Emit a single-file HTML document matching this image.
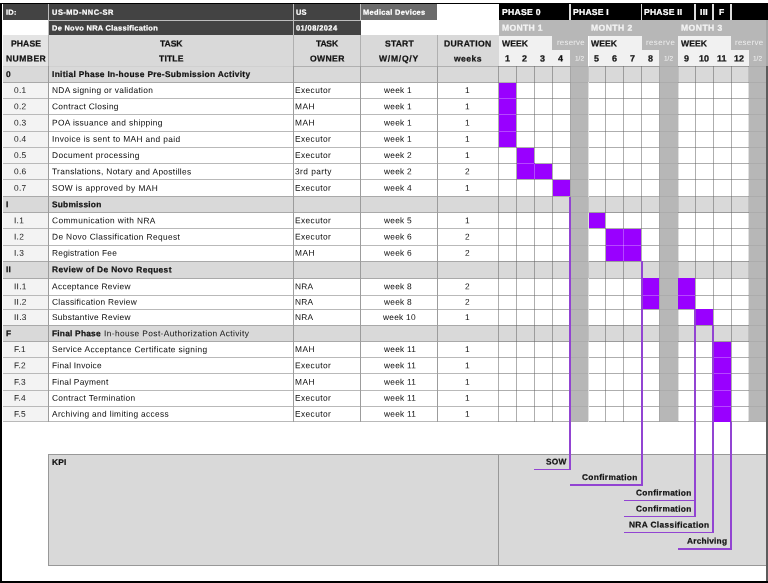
<!DOCTYPE html>
<html><head><meta charset="utf-8"><title>De Novo NRA Classification</title><style>
html,body{margin:0;padding:0;background:#fff;}
body{width:768px;height:583px;position:relative;overflow:hidden;font-family:"Liberation Sans",sans-serif;font-size:8.6px;color:#111;}
#w{position:absolute;left:0;top:0;width:768px;height:583px;will-change:transform;}
#w>div{position:absolute;}
.t{white-space:nowrap;overflow:visible;height:12px;line-height:12px;transform-origin:0 50%;}
</style></head><body><div id="w">
<div style="left:2.50px;top:4.30px;width:358.20px;height:15.45px;background:#434343;"></div>
<div style="left:360.70px;top:4.30px;width:76.80px;height:15.45px;background:#6b6b6b;"></div>
<div style="left:48.50px;top:19.75px;width:312.20px;height:15.15px;background:#434343;"></div>
<div style="left:48.50px;top:19.65px;width:312.20px;height:0.90px;background:#bdbdbd;"></div>
<div style="left:48.00px;top:4.30px;width:1.00px;height:30.60px;background:#bdbdbd;"></div>
<div style="left:292.70px;top:4.30px;width:1.00px;height:30.60px;background:#bdbdbd;"></div>
<div style="left:360.20px;top:4.30px;width:1.00px;height:15.45px;background:#bdbdbd;"></div>
<div class="t" style="left:5.60px;top:6px;transform:translateY(0.70px) rotate(0.04deg);font-size:7.45px;letter-spacing:0.308px;font-weight:bold;-webkit-text-stroke:0.22px;color:#fff;">ID:</div>
<div class="t" style="left:52.10px;top:6px;transform:translateY(0.70px) rotate(0.04deg);font-size:7.45px;letter-spacing:0.516px;font-weight:bold;-webkit-text-stroke:0.22px;color:#fff;">US-MD-NNC-SR</div>
<div class="t" style="left:295.60px;top:6px;transform:translateY(0.70px) rotate(0.04deg);font-size:7.45px;letter-spacing:0.167px;font-weight:bold;-webkit-text-stroke:0.22px;color:#fff;">US</div>
<div class="t" style="left:363.10px;top:6px;transform:translateY(0.70px) rotate(0.04deg);font-size:7.45px;letter-spacing:0.340px;font-weight:bold;-webkit-text-stroke:0.22px;color:#fff;">Medical Devices</div>
<div class="t" style="left:52.10px;top:22px;transform:translateY(0.50px) rotate(0.04deg);font-size:7.45px;letter-spacing:0.288px;font-weight:bold;-webkit-text-stroke:0.22px;color:#fff;">De Novo NRA Classification</div>
<div class="t" style="left:295.60px;top:22px;transform:translateY(0.50px) rotate(0.04deg);font-size:7.45px;letter-spacing:0.422px;font-weight:bold;-webkit-text-stroke:0.22px;color:#fff;">01/08/2024</div>
<div style="left:498.60px;top:2.50px;width:269.40px;height:17.35px;background:#000;"></div>
<div style="left:569.40px;top:4.40px;width:1.40px;height:15.95px;background:#dcdcdc;"></div>
<div style="left:641.00px;top:4.40px;width:1.40px;height:15.95px;background:#dcdcdc;"></div>
<div style="left:694.40px;top:4.40px;width:1.40px;height:15.95px;background:#dcdcdc;"></div>
<div style="left:712.30px;top:4.40px;width:1.40px;height:15.95px;background:#dcdcdc;"></div>
<div style="left:730.30px;top:4.40px;width:1.40px;height:15.95px;background:#dcdcdc;"></div>
<div class="t" style="left:501.70px;top:6px;transform:translateY(0.00px) rotate(0.04deg);font-size:8.6px;letter-spacing:0.292px;font-weight:bold;-webkit-text-stroke:0.22px;color:#fff;">PHASE 0</div>
<div class="t" style="left:573.20px;top:6px;transform:translateY(0.00px) rotate(0.04deg);font-size:8.6px;letter-spacing:0.229px;font-weight:bold;-webkit-text-stroke:0.22px;color:#fff;">PHASE I</div>
<div class="t" style="left:644.30px;top:6px;transform:translateY(0.00px) rotate(0.04deg);font-size:8.6px;letter-spacing:0.200px;font-weight:bold;-webkit-text-stroke:0.22px;color:#fff;">PHASE II</div>
<div class="t" style="left:699.50px;top:6px;transform:translateY(0.00px) rotate(0.04deg);font-size:8.6px;letter-spacing:0.253px;font-weight:bold;-webkit-text-stroke:0.22px;color:#fff;">III</div>
<div class="t" style="left:719.00px;top:6px;transform:translateY(0.00px) rotate(0.04deg);font-size:8.6px;letter-spacing:0.000px;font-weight:bold;-webkit-text-stroke:0.22px;color:#fff;">F</div>
<div style="left:498.60px;top:19.85px;width:267.70px;height:16.15px;background:#b7b7b7;"></div>
<div class="t" style="left:502.00px;top:21px;transform:translateY(0.80px) rotate(0.04deg);font-size:8.6px;letter-spacing:0.323px;font-weight:bold;-webkit-text-stroke:0.22px;color:#f4f4f4;">MONTH 1</div>
<div class="t" style="left:590.70px;top:21px;transform:translateY(0.80px) rotate(0.04deg);font-size:8.6px;letter-spacing:0.415px;font-weight:bold;-webkit-text-stroke:0.22px;color:#f4f4f4;">MONTH 2</div>
<div class="t" style="left:680.50px;top:21px;transform:translateY(0.80px) rotate(0.04deg);font-size:8.6px;letter-spacing:0.446px;font-weight:bold;-webkit-text-stroke:0.22px;color:#f4f4f4;">MONTH 3</div>
<div style="left:498.60px;top:35.90px;width:71.50px;height:30.35px;background:#f1f1f1;"></div>
<div style="left:552.20px;top:35.90px;width:36.30px;height:14.50px;background:#b7b7b7;"></div>
<div style="left:570.10px;top:35.90px;width:18.40px;height:30.35px;background:#b7b7b7;"></div>
<div class="t" style="left:502.00px;top:37px;transform:translateY(0.60px) rotate(0.04deg);font-size:8.6px;letter-spacing:0.057px;font-weight:bold;-webkit-text-stroke:0.22px;">WEEK</div>
<div class="t" style="left:557.30px;top:36px;transform:translateY(0.90px) rotate(0.04deg);font-size:7.9px;letter-spacing:0.224px;color:#ececec;">reserve</div>
<div class="t" style="left:504.55px;top:52px;transform:translateY(0.60px) rotate(0.04deg);font-size:9.0px;letter-spacing:0.000px;font-weight:bold;-webkit-text-stroke:0.22px;">1</div>
<div class="t" style="left:522.45px;top:52px;transform:translateY(0.60px) rotate(0.04deg);font-size:9.0px;letter-spacing:0.000px;font-weight:bold;-webkit-text-stroke:0.22px;">2</div>
<div class="t" style="left:540.30px;top:52px;transform:translateY(0.60px) rotate(0.04deg);font-size:9.0px;letter-spacing:0.000px;font-weight:bold;-webkit-text-stroke:0.22px;">3</div>
<div class="t" style="left:558.15px;top:52px;transform:translateY(0.60px) rotate(0.04deg);font-size:9.0px;letter-spacing:0.000px;font-weight:bold;-webkit-text-stroke:0.22px;">4</div>
<div class="t" style="left:574.58px;top:52px;transform:translateY(0.40px) rotate(0.04deg);font-size:6.5px;letter-spacing:0.000px;color:#f6f6f6;">1/2</div>
<div style="left:588.50px;top:35.90px;width:70.80px;height:30.35px;background:#f1f1f1;"></div>
<div style="left:641.70px;top:35.90px;width:36.30px;height:14.50px;background:#b7b7b7;"></div>
<div style="left:659.30px;top:35.90px;width:18.70px;height:30.35px;background:#b7b7b7;"></div>
<div class="t" style="left:590.70px;top:37px;transform:translateY(0.60px) rotate(0.04deg);font-size:8.6px;letter-spacing:0.057px;font-weight:bold;-webkit-text-stroke:0.22px;">WEEK</div>
<div class="t" style="left:645.60px;top:36px;transform:translateY(0.90px) rotate(0.04deg);font-size:7.9px;letter-spacing:0.409px;color:#ececec;">reserve</div>
<div class="t" style="left:594.10px;top:52px;transform:translateY(0.60px) rotate(0.04deg);font-size:9.0px;letter-spacing:0.000px;font-weight:bold;-webkit-text-stroke:0.22px;">5</div>
<div class="t" style="left:611.80px;top:52px;transform:translateY(0.60px) rotate(0.04deg);font-size:9.0px;letter-spacing:0.000px;font-weight:bold;-webkit-text-stroke:0.22px;">6</div>
<div class="t" style="left:629.80px;top:52px;transform:translateY(0.60px) rotate(0.04deg);font-size:9.0px;letter-spacing:0.000px;font-weight:bold;-webkit-text-stroke:0.22px;">7</div>
<div class="t" style="left:647.50px;top:52px;transform:translateY(0.60px) rotate(0.04deg);font-size:9.0px;letter-spacing:0.000px;font-weight:bold;-webkit-text-stroke:0.22px;">8</div>
<div class="t" style="left:663.93px;top:52px;transform:translateY(0.40px) rotate(0.04deg);font-size:6.5px;letter-spacing:0.000px;color:#f6f6f6;">1/2</div>
<div style="left:678.00px;top:35.90px;width:70.70px;height:30.35px;background:#f1f1f1;"></div>
<div style="left:731.00px;top:35.90px;width:35.30px;height:14.50px;background:#b7b7b7;"></div>
<div style="left:748.70px;top:35.90px;width:17.60px;height:30.35px;background:#b7b7b7;"></div>
<div class="t" style="left:680.50px;top:37px;transform:translateY(0.60px) rotate(0.04deg);font-size:8.6px;letter-spacing:0.057px;font-weight:bold;-webkit-text-stroke:0.22px;">WEEK</div>
<div class="t" style="left:735.40px;top:36px;transform:translateY(0.90px) rotate(0.04deg);font-size:7.9px;letter-spacing:0.286px;color:#ececec;">reserve</div>
<div class="t" style="left:683.55px;top:52px;transform:translateY(0.60px) rotate(0.04deg);font-size:9.0px;letter-spacing:0.000px;font-weight:bold;-webkit-text-stroke:0.22px;">9</div>
<div class="t" style="left:698.54px;top:52px;transform:translateY(0.60px) rotate(0.04deg);font-size:9.0px;letter-spacing:0.000px;font-weight:bold;-webkit-text-stroke:0.22px;">10</div>
<div class="t" style="left:716.74px;top:52px;transform:translateY(0.60px) rotate(0.04deg);font-size:9.0px;letter-spacing:0.000px;font-weight:bold;-webkit-text-stroke:0.22px;">11</div>
<div class="t" style="left:734.34px;top:52px;transform:translateY(0.60px) rotate(0.04deg);font-size:9.0px;letter-spacing:0.000px;font-weight:bold;-webkit-text-stroke:0.22px;">12</div>
<div class="t" style="left:752.78px;top:52px;transform:translateY(0.40px) rotate(0.04deg);font-size:6.5px;letter-spacing:0.000px;color:#f6f6f6;">1/2</div>
<div style="left:2.50px;top:35.40px;width:46.00px;height:30.85px;background:#e4e4e4;"></div>
<div style="left:48.50px;top:35.40px;width:450.10px;height:30.85px;background:#d9d9d9;"></div>
<div class="t" style="left:10.52px;top:37px;transform:translateY(0.60px) rotate(0.04deg);font-size:8.6px;letter-spacing:0.082px;font-weight:bold;-webkit-text-stroke:0.22px;">PHASE</div>
<div class="t" style="left:5.60px;top:52px;transform:translateY(0.40px) rotate(0.04deg);font-size:8.6px;letter-spacing:0.410px;font-weight:bold;-webkit-text-stroke:0.22px;">NUMBER</div>
<div class="t" style="left:159.58px;top:37px;transform:translateY(0.60px) rotate(0.04deg);font-size:8.6px;letter-spacing:-0.078px;font-weight:bold;-webkit-text-stroke:0.22px;">TASK</div>
<div class="t" style="left:158.63px;top:52px;transform:translateY(0.40px) rotate(0.04deg);font-size:8.6px;letter-spacing:0.137px;font-weight:bold;-webkit-text-stroke:0.22px;">TITLE</div>
<div class="t" style="left:315.89px;top:37px;transform:translateY(0.60px) rotate(0.04deg);font-size:8.6px;letter-spacing:-0.221px;font-weight:bold;-webkit-text-stroke:0.22px;">TASK</div>
<div class="t" style="left:309.74px;top:52px;transform:translateY(0.40px) rotate(0.04deg);font-size:8.6px;letter-spacing:0.364px;font-weight:bold;-webkit-text-stroke:0.22px;">OWNER</div>
<div class="t" style="left:384.54px;top:37px;transform:translateY(0.60px) rotate(0.04deg);font-size:8.6px;letter-spacing:0.172px;font-weight:bold;-webkit-text-stroke:0.22px;">START</div>
<div class="t" style="left:379.33px;top:52px;transform:translateY(0.40px) rotate(0.04deg);font-size:8.6px;letter-spacing:0.712px;font-weight:bold;-webkit-text-stroke:0.22px;">W/M/Q/Y</div>
<div class="t" style="left:444.24px;top:37px;transform:translateY(0.60px) rotate(0.04deg);font-size:8.6px;letter-spacing:0.354px;font-weight:bold;-webkit-text-stroke:0.22px;">DURATION</div>
<div class="t" style="left:454.06px;top:52px;transform:translateY(0.40px) rotate(0.04deg);font-size:8.6px;letter-spacing:0.440px;font-weight:bold;-webkit-text-stroke:0.22px;">weeks</div>
<div style="left:48.00px;top:35.40px;width:1.00px;height:30.85px;background:#b0b0b0;"></div>
<div style="left:292.50px;top:35.40px;width:1.00px;height:30.85px;background:#b0b0b0;"></div>
<div style="left:360.20px;top:35.40px;width:1.00px;height:30.85px;background:#b0b0b0;"></div>
<div style="left:436.60px;top:35.40px;width:1.00px;height:30.85px;background:#b0b0b0;"></div>
<div style="left:2.50px;top:66.25px;width:763.80px;height:16.00px;background:#d9d9d9;"></div>
<div class="t" style="left:5.60px;top:67px;transform:translateY(0.95px) rotate(0.04deg);font-size:8.35px;letter-spacing:0.200px;font-weight:bold;-webkit-text-stroke:0.22px;">0</div>
<div class="t" style="left:52.30px;top:67px;transform:translateY(0.95px) rotate(0.04deg);font-size:8.35px;letter-spacing:0.319px;font-weight:bold;-webkit-text-stroke:0.22px;">Initial Phase In-house Pre-Submission Activity</div>
<div style="left:2.50px;top:82.25px;width:46.00px;height:16.15px;background:#f3f3f3;"></div>
<div class="t" style="left:13.60px;top:84px;transform:translateY(0.03px) rotate(0.04deg);font-size:8.35px;letter-spacing:0.250px;color:#161616;">0.1</div>
<div class="t" style="left:52.30px;top:84px;transform:translateY(0.03px) rotate(0.04deg);font-size:8.35px;letter-spacing:0.315px;color:#0a0a0a;">NDA signing or validation</div>
<div class="t" style="left:295.30px;top:84px;transform:translateY(0.03px) rotate(0.04deg);font-size:8.35px;letter-spacing:0.406px;color:#0a0a0a;">Executor</div>
<div class="t" style="left:384.45px;top:84px;transform:translateY(0.03px) rotate(0.04deg);font-size:8.35px;letter-spacing:0.250px;color:#0a0a0a;">week 1</div>
<div class="t" style="left:464.98px;top:84px;transform:translateY(0.03px) rotate(0.04deg);font-size:8.35px;letter-spacing:0.000px;color:#0a0a0a;">1</div>
<div style="left:2.50px;top:98.40px;width:46.00px;height:16.10px;background:#f3f3f3;"></div>
<div class="t" style="left:13.60px;top:100px;transform:translateY(0.15px) rotate(0.04deg);font-size:8.35px;letter-spacing:0.250px;color:#161616;">0.2</div>
<div class="t" style="left:52.30px;top:100px;transform:translateY(0.15px) rotate(0.04deg);font-size:8.35px;letter-spacing:0.321px;color:#0a0a0a;">Contract Closing</div>
<div class="t" style="left:295.30px;top:100px;transform:translateY(0.15px) rotate(0.04deg);font-size:8.35px;letter-spacing:0.458px;color:#0a0a0a;">MAH</div>
<div class="t" style="left:384.45px;top:100px;transform:translateY(0.15px) rotate(0.04deg);font-size:8.35px;letter-spacing:0.250px;color:#0a0a0a;">week 1</div>
<div class="t" style="left:464.98px;top:100px;transform:translateY(0.15px) rotate(0.04deg);font-size:8.35px;letter-spacing:0.000px;color:#0a0a0a;">1</div>
<div style="left:2.50px;top:114.50px;width:46.00px;height:16.50px;background:#f3f3f3;"></div>
<div class="t" style="left:13.60px;top:116px;transform:translateY(0.45px) rotate(0.04deg);font-size:8.35px;letter-spacing:0.250px;color:#161616;">0.3</div>
<div class="t" style="left:52.30px;top:116px;transform:translateY(0.45px) rotate(0.04deg);font-size:8.35px;letter-spacing:0.350px;color:#0a0a0a;">POA issuance and shipping</div>
<div class="t" style="left:295.30px;top:116px;transform:translateY(0.45px) rotate(0.04deg);font-size:8.35px;letter-spacing:0.458px;color:#0a0a0a;">MAH</div>
<div class="t" style="left:384.45px;top:116px;transform:translateY(0.45px) rotate(0.04deg);font-size:8.35px;letter-spacing:0.250px;color:#0a0a0a;">week 1</div>
<div class="t" style="left:464.98px;top:116px;transform:translateY(0.45px) rotate(0.04deg);font-size:8.35px;letter-spacing:0.000px;color:#0a0a0a;">1</div>
<div style="left:2.50px;top:131.00px;width:46.00px;height:16.25px;background:#f3f3f3;"></div>
<div class="t" style="left:13.60px;top:132px;transform:translateY(0.82px) rotate(0.04deg);font-size:8.35px;letter-spacing:0.250px;color:#161616;">0.4</div>
<div class="t" style="left:52.30px;top:132px;transform:translateY(0.82px) rotate(0.04deg);font-size:8.35px;letter-spacing:0.360px;color:#0a0a0a;">Invoice is sent to MAH and paid</div>
<div class="t" style="left:295.30px;top:132px;transform:translateY(0.82px) rotate(0.04deg);font-size:8.35px;letter-spacing:0.406px;color:#0a0a0a;">Executor</div>
<div class="t" style="left:384.45px;top:132px;transform:translateY(0.82px) rotate(0.04deg);font-size:8.35px;letter-spacing:0.250px;color:#0a0a0a;">week 1</div>
<div class="t" style="left:464.98px;top:132px;transform:translateY(0.82px) rotate(0.04deg);font-size:8.35px;letter-spacing:0.000px;color:#0a0a0a;">1</div>
<div style="left:2.50px;top:147.25px;width:46.00px;height:16.25px;background:#f3f3f3;"></div>
<div class="t" style="left:13.60px;top:149px;transform:translateY(0.07px) rotate(0.04deg);font-size:8.35px;letter-spacing:0.250px;color:#161616;">0.5</div>
<div class="t" style="left:52.30px;top:149px;transform:translateY(0.07px) rotate(0.04deg);font-size:8.35px;letter-spacing:0.375px;color:#0a0a0a;">Document processing</div>
<div class="t" style="left:295.30px;top:149px;transform:translateY(0.07px) rotate(0.04deg);font-size:8.35px;letter-spacing:0.406px;color:#0a0a0a;">Executor</div>
<div class="t" style="left:384.45px;top:149px;transform:translateY(0.07px) rotate(0.04deg);font-size:8.35px;letter-spacing:0.250px;color:#0a0a0a;">week 2</div>
<div class="t" style="left:464.98px;top:149px;transform:translateY(0.07px) rotate(0.04deg);font-size:8.35px;letter-spacing:0.000px;color:#0a0a0a;">1</div>
<div style="left:2.50px;top:163.50px;width:46.00px;height:16.25px;background:#f3f3f3;"></div>
<div class="t" style="left:13.60px;top:165px;transform:translateY(0.32px) rotate(0.04deg);font-size:8.35px;letter-spacing:0.250px;color:#161616;">0.6</div>
<div class="t" style="left:52.30px;top:165px;transform:translateY(0.32px) rotate(0.04deg);font-size:8.35px;letter-spacing:0.323px;color:#0a0a0a;">Translations, Notary and Apostilles</div>
<div class="t" style="left:295.30px;top:165px;transform:translateY(0.32px) rotate(0.04deg);font-size:8.35px;letter-spacing:0.441px;color:#0a0a0a;">3rd party</div>
<div class="t" style="left:384.45px;top:165px;transform:translateY(0.32px) rotate(0.04deg);font-size:8.35px;letter-spacing:0.250px;color:#0a0a0a;">week 2</div>
<div class="t" style="left:464.98px;top:165px;transform:translateY(0.32px) rotate(0.04deg);font-size:8.35px;letter-spacing:0.000px;color:#0a0a0a;">2</div>
<div style="left:2.50px;top:179.75px;width:46.00px;height:16.75px;background:#f3f3f3;"></div>
<div class="t" style="left:13.60px;top:181px;transform:translateY(0.82px) rotate(0.04deg);font-size:8.35px;letter-spacing:0.250px;color:#161616;">0.7</div>
<div class="t" style="left:52.30px;top:181px;transform:translateY(0.82px) rotate(0.04deg);font-size:8.35px;letter-spacing:0.398px;color:#0a0a0a;">SOW is approved by MAH</div>
<div class="t" style="left:295.30px;top:181px;transform:translateY(0.82px) rotate(0.04deg);font-size:8.35px;letter-spacing:0.406px;color:#0a0a0a;">Executor</div>
<div class="t" style="left:384.45px;top:181px;transform:translateY(0.82px) rotate(0.04deg);font-size:8.35px;letter-spacing:0.250px;color:#0a0a0a;">week 4</div>
<div class="t" style="left:464.98px;top:181px;transform:translateY(0.82px) rotate(0.04deg);font-size:8.35px;letter-spacing:0.000px;color:#0a0a0a;">1</div>
<div style="left:2.50px;top:196.50px;width:763.80px;height:16.00px;background:#d9d9d9;"></div>
<div class="t" style="left:5.60px;top:198px;transform:translateY(0.20px) rotate(0.04deg);font-size:8.35px;letter-spacing:0.200px;font-weight:bold;-webkit-text-stroke:0.22px;">I</div>
<div class="t" style="left:52.30px;top:198px;transform:translateY(0.20px) rotate(0.04deg);font-size:8.35px;letter-spacing:0.219px;font-weight:bold;-webkit-text-stroke:0.22px;">Submission</div>
<div style="left:2.50px;top:212.50px;width:46.00px;height:16.25px;background:#f3f3f3;"></div>
<div class="t" style="left:13.60px;top:214px;transform:translateY(0.32px) rotate(0.04deg);font-size:8.35px;letter-spacing:0.250px;color:#161616;">I.1</div>
<div class="t" style="left:52.30px;top:214px;transform:translateY(0.32px) rotate(0.04deg);font-size:8.35px;letter-spacing:0.399px;color:#0a0a0a;">Communication with NRA</div>
<div class="t" style="left:295.30px;top:214px;transform:translateY(0.32px) rotate(0.04deg);font-size:8.35px;letter-spacing:0.406px;color:#0a0a0a;">Executor</div>
<div class="t" style="left:384.45px;top:214px;transform:translateY(0.32px) rotate(0.04deg);font-size:8.35px;letter-spacing:0.250px;color:#0a0a0a;">week 5</div>
<div class="t" style="left:464.98px;top:214px;transform:translateY(0.32px) rotate(0.04deg);font-size:8.35px;letter-spacing:0.000px;color:#0a0a0a;">1</div>
<div style="left:2.50px;top:228.75px;width:46.00px;height:16.25px;background:#f3f3f3;"></div>
<div class="t" style="left:13.60px;top:230px;transform:translateY(0.57px) rotate(0.04deg);font-size:8.35px;letter-spacing:0.250px;color:#161616;">I.2</div>
<div class="t" style="left:52.30px;top:230px;transform:translateY(0.57px) rotate(0.04deg);font-size:8.35px;letter-spacing:0.359px;color:#0a0a0a;">De Novo Classification Request</div>
<div class="t" style="left:295.30px;top:230px;transform:translateY(0.57px) rotate(0.04deg);font-size:8.35px;letter-spacing:0.406px;color:#0a0a0a;">Executor</div>
<div class="t" style="left:384.45px;top:230px;transform:translateY(0.57px) rotate(0.04deg);font-size:8.35px;letter-spacing:0.250px;color:#0a0a0a;">week 6</div>
<div class="t" style="left:464.98px;top:230px;transform:translateY(0.57px) rotate(0.04deg);font-size:8.35px;letter-spacing:0.000px;color:#0a0a0a;">2</div>
<div style="left:2.50px;top:245.00px;width:46.00px;height:16.25px;background:#f3f3f3;"></div>
<div class="t" style="left:13.60px;top:246px;transform:translateY(0.82px) rotate(0.04deg);font-size:8.35px;letter-spacing:0.250px;color:#161616;">I.3</div>
<div class="t" style="left:52.30px;top:246px;transform:translateY(0.82px) rotate(0.04deg);font-size:8.35px;letter-spacing:0.241px;color:#0a0a0a;">Registration Fee</div>
<div class="t" style="left:295.30px;top:246px;transform:translateY(0.82px) rotate(0.04deg);font-size:8.35px;letter-spacing:0.458px;color:#0a0a0a;">MAH</div>
<div class="t" style="left:384.45px;top:246px;transform:translateY(0.82px) rotate(0.04deg);font-size:8.35px;letter-spacing:0.250px;color:#0a0a0a;">week 6</div>
<div class="t" style="left:464.98px;top:246px;transform:translateY(0.82px) rotate(0.04deg);font-size:8.35px;letter-spacing:0.000px;color:#0a0a0a;">2</div>
<div style="left:2.50px;top:261.25px;width:763.80px;height:16.75px;background:#d9d9d9;"></div>
<div class="t" style="left:5.60px;top:263px;transform:translateY(0.32px) rotate(0.04deg);font-size:8.35px;letter-spacing:0.200px;font-weight:bold;-webkit-text-stroke:0.22px;">II</div>
<div class="t" style="left:52.30px;top:263px;transform:translateY(0.32px) rotate(0.04deg);font-size:8.35px;letter-spacing:0.378px;font-weight:bold;-webkit-text-stroke:0.22px;">Review of De Novo Request</div>
<div style="left:2.50px;top:278.00px;width:46.00px;height:17.00px;background:#f3f3f3;"></div>
<div class="t" style="left:13.60px;top:280px;transform:translateY(0.20px) rotate(0.04deg);font-size:8.35px;letter-spacing:0.250px;color:#161616;">II.1</div>
<div class="t" style="left:52.30px;top:280px;transform:translateY(0.20px) rotate(0.04deg);font-size:8.35px;letter-spacing:0.325px;color:#0a0a0a;">Acceptance Review</div>
<div class="t" style="left:295.30px;top:280px;transform:translateY(0.20px) rotate(0.04deg);font-size:8.35px;letter-spacing:0.250px;color:#0a0a0a;">NRA</div>
<div class="t" style="left:384.45px;top:280px;transform:translateY(0.20px) rotate(0.04deg);font-size:8.35px;letter-spacing:0.250px;color:#0a0a0a;">week 8</div>
<div class="t" style="left:464.98px;top:280px;transform:translateY(0.20px) rotate(0.04deg);font-size:8.35px;letter-spacing:0.000px;color:#0a0a0a;">2</div>
<div style="left:2.50px;top:295.00px;width:46.00px;height:14.06px;background:#f3f3f3;"></div>
<div class="t" style="left:13.60px;top:295px;transform:translateY(0.73px) rotate(0.04deg);font-size:8.35px;letter-spacing:0.250px;color:#161616;">II.2</div>
<div class="t" style="left:52.30px;top:295px;transform:translateY(0.73px) rotate(0.04deg);font-size:8.35px;letter-spacing:0.298px;color:#0a0a0a;">Classification Review</div>
<div class="t" style="left:295.30px;top:295px;transform:translateY(0.73px) rotate(0.04deg);font-size:8.35px;letter-spacing:0.250px;color:#0a0a0a;">NRA</div>
<div class="t" style="left:384.45px;top:295px;transform:translateY(0.73px) rotate(0.04deg);font-size:8.35px;letter-spacing:0.250px;color:#0a0a0a;">week 8</div>
<div class="t" style="left:464.98px;top:295px;transform:translateY(0.73px) rotate(0.04deg);font-size:8.35px;letter-spacing:0.000px;color:#0a0a0a;">2</div>
<div style="left:2.50px;top:309.06px;width:46.00px;height:16.34px;background:#f3f3f3;"></div>
<div class="t" style="left:13.60px;top:310px;transform:translateY(0.93px) rotate(0.04deg);font-size:8.35px;letter-spacing:0.250px;color:#161616;">II.3</div>
<div class="t" style="left:52.30px;top:310px;transform:translateY(0.93px) rotate(0.04deg);font-size:8.35px;letter-spacing:0.307px;color:#0a0a0a;">Substantive Review</div>
<div class="t" style="left:295.30px;top:310px;transform:translateY(0.93px) rotate(0.04deg);font-size:8.35px;letter-spacing:0.250px;color:#0a0a0a;">NRA</div>
<div class="t" style="left:383.20px;top:310px;transform:translateY(0.93px) rotate(0.04deg);font-size:8.35px;letter-spacing:0.250px;color:#0a0a0a;">week 10</div>
<div class="t" style="left:464.98px;top:310px;transform:translateY(0.93px) rotate(0.04deg);font-size:8.35px;letter-spacing:0.000px;color:#0a0a0a;">1</div>
<div style="left:2.50px;top:325.40px;width:763.80px;height:16.20px;background:#d9d9d9;"></div>
<div class="t" style="left:5.60px;top:327px;transform:translateY(0.20px) rotate(0.04deg);font-size:8.35px;letter-spacing:0.200px;font-weight:bold;-webkit-text-stroke:0.22px;">F</div>
<div class="t" style="left:52.30px;top:327px;transform:translateY(0.20px) rotate(0.04deg);font-size:8.35px;letter-spacing:0.218px;font-weight:bold;-webkit-text-stroke:0.22px;">Final Phase</div>
<div class="t" style="left:104.00px;top:327px;transform:translateY(0.20px) rotate(0.04deg);font-size:8.35px;letter-spacing:0.393px;">In-house Post-Authorization Activity</div>
<div style="left:2.50px;top:341.60px;width:46.00px;height:15.60px;background:#f3f3f3;"></div>
<div class="t" style="left:13.60px;top:343px;transform:translateY(0.10px) rotate(0.04deg);font-size:8.35px;letter-spacing:0.250px;color:#161616;">F.1</div>
<div class="t" style="left:52.30px;top:343px;transform:translateY(0.10px) rotate(0.04deg);font-size:8.35px;letter-spacing:0.357px;color:#0a0a0a;">Service Acceptance Certificate signing</div>
<div class="t" style="left:295.30px;top:343px;transform:translateY(0.10px) rotate(0.04deg);font-size:8.35px;letter-spacing:0.458px;color:#0a0a0a;">MAH</div>
<div class="t" style="left:383.51px;top:343px;transform:translateY(0.10px) rotate(0.04deg);font-size:8.35px;letter-spacing:0.250px;color:#0a0a0a;">week 11</div>
<div class="t" style="left:464.98px;top:343px;transform:translateY(0.10px) rotate(0.04deg);font-size:8.35px;letter-spacing:0.000px;color:#0a0a0a;">1</div>
<div style="left:2.50px;top:357.20px;width:46.00px;height:16.70px;background:#f3f3f3;"></div>
<div class="t" style="left:13.60px;top:359px;transform:translateY(0.25px) rotate(0.04deg);font-size:8.35px;letter-spacing:0.250px;color:#161616;">F.2</div>
<div class="t" style="left:52.30px;top:359px;transform:translateY(0.25px) rotate(0.04deg);font-size:8.35px;letter-spacing:0.226px;color:#0a0a0a;">Final Invoice</div>
<div class="t" style="left:295.30px;top:359px;transform:translateY(0.25px) rotate(0.04deg);font-size:8.35px;letter-spacing:0.406px;color:#0a0a0a;">Executor</div>
<div class="t" style="left:383.51px;top:359px;transform:translateY(0.25px) rotate(0.04deg);font-size:8.35px;letter-spacing:0.250px;color:#0a0a0a;">week 11</div>
<div class="t" style="left:464.98px;top:359px;transform:translateY(0.25px) rotate(0.04deg);font-size:8.35px;letter-spacing:0.000px;color:#0a0a0a;">1</div>
<div style="left:2.50px;top:373.90px;width:46.00px;height:16.10px;background:#f3f3f3;"></div>
<div class="t" style="left:13.60px;top:375px;transform:translateY(0.65px) rotate(0.04deg);font-size:8.35px;letter-spacing:0.250px;color:#161616;">F.3</div>
<div class="t" style="left:52.30px;top:375px;transform:translateY(0.65px) rotate(0.04deg);font-size:8.35px;letter-spacing:0.242px;color:#0a0a0a;">Final Payment</div>
<div class="t" style="left:295.30px;top:375px;transform:translateY(0.65px) rotate(0.04deg);font-size:8.35px;letter-spacing:0.458px;color:#0a0a0a;">MAH</div>
<div class="t" style="left:383.51px;top:375px;transform:translateY(0.65px) rotate(0.04deg);font-size:8.35px;letter-spacing:0.250px;color:#0a0a0a;">week 11</div>
<div class="t" style="left:464.98px;top:375px;transform:translateY(0.65px) rotate(0.04deg);font-size:8.35px;letter-spacing:0.000px;color:#0a0a0a;">1</div>
<div style="left:2.50px;top:390.00px;width:46.00px;height:16.25px;background:#f3f3f3;"></div>
<div class="t" style="left:13.60px;top:391px;transform:translateY(0.82px) rotate(0.04deg);font-size:8.35px;letter-spacing:0.250px;color:#161616;">F.4</div>
<div class="t" style="left:52.30px;top:391px;transform:translateY(0.82px) rotate(0.04deg);font-size:8.35px;letter-spacing:0.334px;color:#0a0a0a;">Contract Termination</div>
<div class="t" style="left:295.30px;top:391px;transform:translateY(0.82px) rotate(0.04deg);font-size:8.35px;letter-spacing:0.406px;color:#0a0a0a;">Executor</div>
<div class="t" style="left:383.51px;top:391px;transform:translateY(0.82px) rotate(0.04deg);font-size:8.35px;letter-spacing:0.250px;color:#0a0a0a;">week 11</div>
<div class="t" style="left:464.98px;top:391px;transform:translateY(0.82px) rotate(0.04deg);font-size:8.35px;letter-spacing:0.000px;color:#0a0a0a;">1</div>
<div style="left:2.50px;top:406.25px;width:46.00px;height:15.65px;background:#f3f3f3;"></div>
<div class="t" style="left:13.60px;top:407px;transform:translateY(0.77px) rotate(0.04deg);font-size:8.35px;letter-spacing:0.250px;color:#161616;">F.5</div>
<div class="t" style="left:52.30px;top:407px;transform:translateY(0.77px) rotate(0.04deg);font-size:8.35px;letter-spacing:0.344px;color:#0a0a0a;">Archiving and limiting access</div>
<div class="t" style="left:295.30px;top:407px;transform:translateY(0.77px) rotate(0.04deg);font-size:8.35px;letter-spacing:0.406px;color:#0a0a0a;">Executor</div>
<div class="t" style="left:383.51px;top:407px;transform:translateY(0.77px) rotate(0.04deg);font-size:8.35px;letter-spacing:0.250px;color:#0a0a0a;">week 11</div>
<div class="t" style="left:464.98px;top:407px;transform:translateY(0.77px) rotate(0.04deg);font-size:8.35px;letter-spacing:0.000px;color:#0a0a0a;">1</div>
<div style="left:659.30px;top:66.25px;width:18.70px;height:355.65px;background:#b7b7b7;"></div>
<div style="left:570.10px;top:66.25px;width:18.40px;height:355.65px;background:#b7b7b7;"></div>
<div style="left:748.70px;top:66.25px;width:17.60px;height:355.65px;background:#b7b7b7;"></div>
<div style="left:293.20px;top:65.75px;width:205.40px;height:1.00px;background:#b0b0b0;"></div>
<div style="left:2.50px;top:65.75px;width:290.70px;height:1.00px;background:#d0d0d0;"></div>
<div style="left:498.60px;top:65.75px;width:71.50px;height:1.00px;background:rgba(100,100,100,0.52);"></div>
<div style="left:588.50px;top:65.75px;width:70.80px;height:1.00px;background:rgba(100,100,100,0.52);"></div>
<div style="left:678.00px;top:65.75px;width:70.70px;height:1.00px;background:rgba(100,100,100,0.52);"></div>
<div style="left:659.30px;top:65.75px;width:18.70px;height:1.00px;background:rgba(100,100,100,0.13);"></div>
<div style="left:570.10px;top:65.75px;width:18.40px;height:1.00px;background:rgba(100,100,100,0.13);"></div>
<div style="left:748.70px;top:65.75px;width:17.60px;height:1.00px;background:rgba(100,100,100,0.13);"></div>
<div style="left:2.50px;top:81.75px;width:496.10px;height:1.00px;background:#a9a9a9;"></div>
<div style="left:498.60px;top:81.75px;width:71.50px;height:1.00px;background:rgba(100,100,100,0.52);"></div>
<div style="left:588.50px;top:81.75px;width:70.80px;height:1.00px;background:rgba(100,100,100,0.52);"></div>
<div style="left:678.00px;top:81.75px;width:70.70px;height:1.00px;background:rgba(100,100,100,0.52);"></div>
<div style="left:659.30px;top:81.75px;width:18.70px;height:1.00px;background:rgba(100,100,100,0.13);"></div>
<div style="left:570.10px;top:81.75px;width:18.40px;height:1.00px;background:rgba(100,100,100,0.13);"></div>
<div style="left:748.70px;top:81.75px;width:17.60px;height:1.00px;background:rgba(100,100,100,0.13);"></div>
<div style="left:2.50px;top:97.90px;width:496.10px;height:1.00px;background:#b9b9b9;"></div>
<div style="left:498.60px;top:97.90px;width:71.50px;height:1.00px;background:rgba(100,100,100,0.52);"></div>
<div style="left:588.50px;top:97.90px;width:70.80px;height:1.00px;background:rgba(100,100,100,0.52);"></div>
<div style="left:678.00px;top:97.90px;width:70.70px;height:1.00px;background:rgba(100,100,100,0.52);"></div>
<div style="left:659.30px;top:97.90px;width:18.70px;height:1.00px;background:rgba(100,100,100,0.13);"></div>
<div style="left:570.10px;top:97.90px;width:18.40px;height:1.00px;background:rgba(100,100,100,0.13);"></div>
<div style="left:748.70px;top:97.90px;width:17.60px;height:1.00px;background:rgba(100,100,100,0.13);"></div>
<div style="left:2.50px;top:114.00px;width:496.10px;height:1.00px;background:#b9b9b9;"></div>
<div style="left:498.60px;top:114.00px;width:71.50px;height:1.00px;background:rgba(100,100,100,0.52);"></div>
<div style="left:588.50px;top:114.00px;width:70.80px;height:1.00px;background:rgba(100,100,100,0.52);"></div>
<div style="left:678.00px;top:114.00px;width:70.70px;height:1.00px;background:rgba(100,100,100,0.52);"></div>
<div style="left:659.30px;top:114.00px;width:18.70px;height:1.00px;background:rgba(100,100,100,0.13);"></div>
<div style="left:570.10px;top:114.00px;width:18.40px;height:1.00px;background:rgba(100,100,100,0.13);"></div>
<div style="left:748.70px;top:114.00px;width:17.60px;height:1.00px;background:rgba(100,100,100,0.13);"></div>
<div style="left:2.50px;top:130.50px;width:496.10px;height:1.00px;background:#b9b9b9;"></div>
<div style="left:498.60px;top:130.50px;width:71.50px;height:1.00px;background:rgba(100,100,100,0.52);"></div>
<div style="left:588.50px;top:130.50px;width:70.80px;height:1.00px;background:rgba(100,100,100,0.52);"></div>
<div style="left:678.00px;top:130.50px;width:70.70px;height:1.00px;background:rgba(100,100,100,0.52);"></div>
<div style="left:659.30px;top:130.50px;width:18.70px;height:1.00px;background:rgba(100,100,100,0.13);"></div>
<div style="left:570.10px;top:130.50px;width:18.40px;height:1.00px;background:rgba(100,100,100,0.13);"></div>
<div style="left:748.70px;top:130.50px;width:17.60px;height:1.00px;background:rgba(100,100,100,0.13);"></div>
<div style="left:2.50px;top:146.75px;width:496.10px;height:1.00px;background:#b9b9b9;"></div>
<div style="left:498.60px;top:146.75px;width:71.50px;height:1.00px;background:rgba(100,100,100,0.52);"></div>
<div style="left:588.50px;top:146.75px;width:70.80px;height:1.00px;background:rgba(100,100,100,0.52);"></div>
<div style="left:678.00px;top:146.75px;width:70.70px;height:1.00px;background:rgba(100,100,100,0.52);"></div>
<div style="left:659.30px;top:146.75px;width:18.70px;height:1.00px;background:rgba(100,100,100,0.13);"></div>
<div style="left:570.10px;top:146.75px;width:18.40px;height:1.00px;background:rgba(100,100,100,0.13);"></div>
<div style="left:748.70px;top:146.75px;width:17.60px;height:1.00px;background:rgba(100,100,100,0.13);"></div>
<div style="left:2.50px;top:163.00px;width:496.10px;height:1.00px;background:#b9b9b9;"></div>
<div style="left:498.60px;top:163.00px;width:71.50px;height:1.00px;background:rgba(100,100,100,0.52);"></div>
<div style="left:588.50px;top:163.00px;width:70.80px;height:1.00px;background:rgba(100,100,100,0.52);"></div>
<div style="left:678.00px;top:163.00px;width:70.70px;height:1.00px;background:rgba(100,100,100,0.52);"></div>
<div style="left:659.30px;top:163.00px;width:18.70px;height:1.00px;background:rgba(100,100,100,0.13);"></div>
<div style="left:570.10px;top:163.00px;width:18.40px;height:1.00px;background:rgba(100,100,100,0.13);"></div>
<div style="left:748.70px;top:163.00px;width:17.60px;height:1.00px;background:rgba(100,100,100,0.13);"></div>
<div style="left:2.50px;top:179.25px;width:496.10px;height:1.00px;background:#b9b9b9;"></div>
<div style="left:498.60px;top:179.25px;width:71.50px;height:1.00px;background:rgba(100,100,100,0.52);"></div>
<div style="left:588.50px;top:179.25px;width:70.80px;height:1.00px;background:rgba(100,100,100,0.52);"></div>
<div style="left:678.00px;top:179.25px;width:70.70px;height:1.00px;background:rgba(100,100,100,0.52);"></div>
<div style="left:659.30px;top:179.25px;width:18.70px;height:1.00px;background:rgba(100,100,100,0.13);"></div>
<div style="left:570.10px;top:179.25px;width:18.40px;height:1.00px;background:rgba(100,100,100,0.13);"></div>
<div style="left:748.70px;top:179.25px;width:17.60px;height:1.00px;background:rgba(100,100,100,0.13);"></div>
<div style="left:2.50px;top:196.00px;width:496.10px;height:1.00px;background:#a9a9a9;"></div>
<div style="left:498.60px;top:196.00px;width:71.50px;height:1.00px;background:rgba(100,100,100,0.52);"></div>
<div style="left:588.50px;top:196.00px;width:70.80px;height:1.00px;background:rgba(100,100,100,0.52);"></div>
<div style="left:678.00px;top:196.00px;width:70.70px;height:1.00px;background:rgba(100,100,100,0.52);"></div>
<div style="left:659.30px;top:196.00px;width:18.70px;height:1.00px;background:rgba(100,100,100,0.13);"></div>
<div style="left:570.10px;top:196.00px;width:18.40px;height:1.00px;background:rgba(100,100,100,0.13);"></div>
<div style="left:748.70px;top:196.00px;width:17.60px;height:1.00px;background:rgba(100,100,100,0.13);"></div>
<div style="left:2.50px;top:212.00px;width:496.10px;height:1.00px;background:#a9a9a9;"></div>
<div style="left:498.60px;top:212.00px;width:71.50px;height:1.00px;background:rgba(100,100,100,0.52);"></div>
<div style="left:588.50px;top:212.00px;width:70.80px;height:1.00px;background:rgba(100,100,100,0.52);"></div>
<div style="left:678.00px;top:212.00px;width:70.70px;height:1.00px;background:rgba(100,100,100,0.52);"></div>
<div style="left:659.30px;top:212.00px;width:18.70px;height:1.00px;background:rgba(100,100,100,0.13);"></div>
<div style="left:570.10px;top:212.00px;width:18.40px;height:1.00px;background:rgba(100,100,100,0.13);"></div>
<div style="left:748.70px;top:212.00px;width:17.60px;height:1.00px;background:rgba(100,100,100,0.13);"></div>
<div style="left:2.50px;top:228.25px;width:496.10px;height:1.00px;background:#b9b9b9;"></div>
<div style="left:498.60px;top:228.25px;width:71.50px;height:1.00px;background:rgba(100,100,100,0.52);"></div>
<div style="left:588.50px;top:228.25px;width:70.80px;height:1.00px;background:rgba(100,100,100,0.52);"></div>
<div style="left:678.00px;top:228.25px;width:70.70px;height:1.00px;background:rgba(100,100,100,0.52);"></div>
<div style="left:659.30px;top:228.25px;width:18.70px;height:1.00px;background:rgba(100,100,100,0.13);"></div>
<div style="left:570.10px;top:228.25px;width:18.40px;height:1.00px;background:rgba(100,100,100,0.13);"></div>
<div style="left:748.70px;top:228.25px;width:17.60px;height:1.00px;background:rgba(100,100,100,0.13);"></div>
<div style="left:2.50px;top:244.50px;width:496.10px;height:1.00px;background:#b9b9b9;"></div>
<div style="left:498.60px;top:244.50px;width:71.50px;height:1.00px;background:rgba(100,100,100,0.52);"></div>
<div style="left:588.50px;top:244.50px;width:70.80px;height:1.00px;background:rgba(100,100,100,0.52);"></div>
<div style="left:678.00px;top:244.50px;width:70.70px;height:1.00px;background:rgba(100,100,100,0.52);"></div>
<div style="left:659.30px;top:244.50px;width:18.70px;height:1.00px;background:rgba(100,100,100,0.13);"></div>
<div style="left:570.10px;top:244.50px;width:18.40px;height:1.00px;background:rgba(100,100,100,0.13);"></div>
<div style="left:748.70px;top:244.50px;width:17.60px;height:1.00px;background:rgba(100,100,100,0.13);"></div>
<div style="left:2.50px;top:260.75px;width:496.10px;height:1.00px;background:#a9a9a9;"></div>
<div style="left:498.60px;top:260.75px;width:71.50px;height:1.00px;background:rgba(100,100,100,0.52);"></div>
<div style="left:588.50px;top:260.75px;width:70.80px;height:1.00px;background:rgba(100,100,100,0.52);"></div>
<div style="left:678.00px;top:260.75px;width:70.70px;height:1.00px;background:rgba(100,100,100,0.52);"></div>
<div style="left:659.30px;top:260.75px;width:18.70px;height:1.00px;background:rgba(100,100,100,0.13);"></div>
<div style="left:570.10px;top:260.75px;width:18.40px;height:1.00px;background:rgba(100,100,100,0.13);"></div>
<div style="left:748.70px;top:260.75px;width:17.60px;height:1.00px;background:rgba(100,100,100,0.13);"></div>
<div style="left:2.50px;top:277.50px;width:496.10px;height:1.00px;background:#a9a9a9;"></div>
<div style="left:498.60px;top:277.50px;width:71.50px;height:1.00px;background:rgba(100,100,100,0.52);"></div>
<div style="left:588.50px;top:277.50px;width:70.80px;height:1.00px;background:rgba(100,100,100,0.52);"></div>
<div style="left:678.00px;top:277.50px;width:70.70px;height:1.00px;background:rgba(100,100,100,0.52);"></div>
<div style="left:659.30px;top:277.50px;width:18.70px;height:1.00px;background:rgba(100,100,100,0.13);"></div>
<div style="left:570.10px;top:277.50px;width:18.40px;height:1.00px;background:rgba(100,100,100,0.13);"></div>
<div style="left:748.70px;top:277.50px;width:17.60px;height:1.00px;background:rgba(100,100,100,0.13);"></div>
<div style="left:2.50px;top:294.50px;width:496.10px;height:1.00px;background:#b9b9b9;"></div>
<div style="left:498.60px;top:294.50px;width:71.50px;height:1.00px;background:rgba(100,100,100,0.52);"></div>
<div style="left:588.50px;top:294.50px;width:70.80px;height:1.00px;background:rgba(100,100,100,0.52);"></div>
<div style="left:678.00px;top:294.50px;width:70.70px;height:1.00px;background:rgba(100,100,100,0.52);"></div>
<div style="left:659.30px;top:294.50px;width:18.70px;height:1.00px;background:rgba(100,100,100,0.13);"></div>
<div style="left:570.10px;top:294.50px;width:18.40px;height:1.00px;background:rgba(100,100,100,0.13);"></div>
<div style="left:748.70px;top:294.50px;width:17.60px;height:1.00px;background:rgba(100,100,100,0.13);"></div>
<div style="left:2.50px;top:308.56px;width:496.10px;height:1.00px;background:#b9b9b9;"></div>
<div style="left:498.60px;top:308.56px;width:71.50px;height:1.00px;background:rgba(100,100,100,0.52);"></div>
<div style="left:588.50px;top:308.56px;width:70.80px;height:1.00px;background:rgba(100,100,100,0.52);"></div>
<div style="left:678.00px;top:308.56px;width:70.70px;height:1.00px;background:rgba(100,100,100,0.52);"></div>
<div style="left:659.30px;top:308.56px;width:18.70px;height:1.00px;background:rgba(100,100,100,0.13);"></div>
<div style="left:570.10px;top:308.56px;width:18.40px;height:1.00px;background:rgba(100,100,100,0.13);"></div>
<div style="left:748.70px;top:308.56px;width:17.60px;height:1.00px;background:rgba(100,100,100,0.13);"></div>
<div style="left:2.50px;top:324.90px;width:496.10px;height:1.00px;background:#a9a9a9;"></div>
<div style="left:498.60px;top:324.90px;width:71.50px;height:1.00px;background:rgba(100,100,100,0.52);"></div>
<div style="left:588.50px;top:324.90px;width:70.80px;height:1.00px;background:rgba(100,100,100,0.52);"></div>
<div style="left:678.00px;top:324.90px;width:70.70px;height:1.00px;background:rgba(100,100,100,0.52);"></div>
<div style="left:659.30px;top:324.90px;width:18.70px;height:1.00px;background:rgba(100,100,100,0.13);"></div>
<div style="left:570.10px;top:324.90px;width:18.40px;height:1.00px;background:rgba(100,100,100,0.13);"></div>
<div style="left:748.70px;top:324.90px;width:17.60px;height:1.00px;background:rgba(100,100,100,0.13);"></div>
<div style="left:2.50px;top:341.10px;width:496.10px;height:1.00px;background:#a9a9a9;"></div>
<div style="left:498.60px;top:341.10px;width:71.50px;height:1.00px;background:rgba(100,100,100,0.52);"></div>
<div style="left:588.50px;top:341.10px;width:70.80px;height:1.00px;background:rgba(100,100,100,0.52);"></div>
<div style="left:678.00px;top:341.10px;width:70.70px;height:1.00px;background:rgba(100,100,100,0.52);"></div>
<div style="left:659.30px;top:341.10px;width:18.70px;height:1.00px;background:rgba(100,100,100,0.13);"></div>
<div style="left:570.10px;top:341.10px;width:18.40px;height:1.00px;background:rgba(100,100,100,0.13);"></div>
<div style="left:748.70px;top:341.10px;width:17.60px;height:1.00px;background:rgba(100,100,100,0.13);"></div>
<div style="left:2.50px;top:356.70px;width:496.10px;height:1.00px;background:#b9b9b9;"></div>
<div style="left:498.60px;top:356.70px;width:71.50px;height:1.00px;background:rgba(100,100,100,0.52);"></div>
<div style="left:588.50px;top:356.70px;width:70.80px;height:1.00px;background:rgba(100,100,100,0.52);"></div>
<div style="left:678.00px;top:356.70px;width:70.70px;height:1.00px;background:rgba(100,100,100,0.52);"></div>
<div style="left:659.30px;top:356.70px;width:18.70px;height:1.00px;background:rgba(100,100,100,0.13);"></div>
<div style="left:570.10px;top:356.70px;width:18.40px;height:1.00px;background:rgba(100,100,100,0.13);"></div>
<div style="left:748.70px;top:356.70px;width:17.60px;height:1.00px;background:rgba(100,100,100,0.13);"></div>
<div style="left:2.50px;top:373.40px;width:496.10px;height:1.00px;background:#b9b9b9;"></div>
<div style="left:498.60px;top:373.40px;width:71.50px;height:1.00px;background:rgba(100,100,100,0.52);"></div>
<div style="left:588.50px;top:373.40px;width:70.80px;height:1.00px;background:rgba(100,100,100,0.52);"></div>
<div style="left:678.00px;top:373.40px;width:70.70px;height:1.00px;background:rgba(100,100,100,0.52);"></div>
<div style="left:659.30px;top:373.40px;width:18.70px;height:1.00px;background:rgba(100,100,100,0.13);"></div>
<div style="left:570.10px;top:373.40px;width:18.40px;height:1.00px;background:rgba(100,100,100,0.13);"></div>
<div style="left:748.70px;top:373.40px;width:17.60px;height:1.00px;background:rgba(100,100,100,0.13);"></div>
<div style="left:2.50px;top:389.50px;width:496.10px;height:1.00px;background:#b9b9b9;"></div>
<div style="left:498.60px;top:389.50px;width:71.50px;height:1.00px;background:rgba(100,100,100,0.52);"></div>
<div style="left:588.50px;top:389.50px;width:70.80px;height:1.00px;background:rgba(100,100,100,0.52);"></div>
<div style="left:678.00px;top:389.50px;width:70.70px;height:1.00px;background:rgba(100,100,100,0.52);"></div>
<div style="left:659.30px;top:389.50px;width:18.70px;height:1.00px;background:rgba(100,100,100,0.13);"></div>
<div style="left:570.10px;top:389.50px;width:18.40px;height:1.00px;background:rgba(100,100,100,0.13);"></div>
<div style="left:748.70px;top:389.50px;width:17.60px;height:1.00px;background:rgba(100,100,100,0.13);"></div>
<div style="left:2.50px;top:405.75px;width:496.10px;height:1.00px;background:#b9b9b9;"></div>
<div style="left:498.60px;top:405.75px;width:71.50px;height:1.00px;background:rgba(100,100,100,0.52);"></div>
<div style="left:588.50px;top:405.75px;width:70.80px;height:1.00px;background:rgba(100,100,100,0.52);"></div>
<div style="left:678.00px;top:405.75px;width:70.70px;height:1.00px;background:rgba(100,100,100,0.52);"></div>
<div style="left:659.30px;top:405.75px;width:18.70px;height:1.00px;background:rgba(100,100,100,0.13);"></div>
<div style="left:570.10px;top:405.75px;width:18.40px;height:1.00px;background:rgba(100,100,100,0.13);"></div>
<div style="left:748.70px;top:405.75px;width:17.60px;height:1.00px;background:rgba(100,100,100,0.13);"></div>
<div style="left:2.50px;top:421.40px;width:496.10px;height:1.00px;background:#b9b9b9;"></div>
<div style="left:498.60px;top:421.40px;width:71.50px;height:1.00px;background:rgba(100,100,100,0.52);"></div>
<div style="left:588.50px;top:421.40px;width:70.80px;height:1.00px;background:rgba(100,100,100,0.52);"></div>
<div style="left:678.00px;top:421.40px;width:70.70px;height:1.00px;background:rgba(100,100,100,0.52);"></div>
<div style="left:659.30px;top:421.40px;width:18.70px;height:1.00px;background:rgba(100,100,100,0.13);"></div>
<div style="left:570.10px;top:421.40px;width:18.40px;height:1.00px;background:rgba(100,100,100,0.13);"></div>
<div style="left:748.70px;top:421.40px;width:17.60px;height:1.00px;background:rgba(100,100,100,0.13);"></div>
<div style="left:48.00px;top:66.25px;width:1.00px;height:355.65px;background:#9c9c9c;"></div>
<div style="left:292.50px;top:66.25px;width:1.00px;height:355.65px;background:#9c9c9c;"></div>
<div style="left:360.20px;top:66.25px;width:1.00px;height:355.65px;background:#9c9c9c;"></div>
<div style="left:436.60px;top:66.25px;width:1.00px;height:355.65px;background:#9c9c9c;"></div>
<div style="left:498.10px;top:66.25px;width:1.00px;height:355.65px;background:rgba(100,100,100,0.52);"></div>
<div style="left:516.00px;top:66.25px;width:1.00px;height:355.65px;background:rgba(100,100,100,0.52);"></div>
<div style="left:533.90px;top:66.25px;width:1.00px;height:355.65px;background:rgba(100,100,100,0.52);"></div>
<div style="left:551.70px;top:66.25px;width:1.00px;height:355.65px;background:rgba(100,100,100,0.52);"></div>
<div style="left:569.60px;top:66.25px;width:1.00px;height:355.65px;background:rgba(100,100,100,0.2);"></div>
<div style="left:588.00px;top:66.25px;width:1.00px;height:355.65px;background:rgba(100,100,100,0.2);"></div>
<div style="left:605.20px;top:66.25px;width:1.00px;height:355.65px;background:rgba(100,100,100,0.52);"></div>
<div style="left:623.40px;top:66.25px;width:1.00px;height:355.65px;background:rgba(100,100,100,0.52);"></div>
<div style="left:641.20px;top:66.25px;width:1.00px;height:355.65px;background:rgba(100,100,100,0.52);"></div>
<div style="left:658.80px;top:66.25px;width:1.00px;height:355.65px;background:rgba(100,100,100,0.2);"></div>
<div style="left:677.50px;top:66.25px;width:1.00px;height:355.65px;background:rgba(100,100,100,0.2);"></div>
<div style="left:694.60px;top:66.25px;width:1.00px;height:355.65px;background:rgba(100,100,100,0.52);"></div>
<div style="left:712.50px;top:66.25px;width:1.00px;height:355.65px;background:rgba(100,100,100,0.52);"></div>
<div style="left:730.50px;top:66.25px;width:1.00px;height:355.65px;background:rgba(100,100,100,0.52);"></div>
<div style="left:748.20px;top:66.25px;width:1.00px;height:355.65px;background:rgba(100,100,100,0.2);"></div>
<div style="left:498.90px;top:82.55px;width:17.30px;height:16.35px;background:#9900ff;"></div>
<div style="left:498.90px;top:97.90px;width:17.30px;height:17.10px;background:#9900ff;"></div>
<div style="left:498.90px;top:114.00px;width:17.30px;height:17.50px;background:#9900ff;"></div>
<div style="left:498.90px;top:130.50px;width:17.30px;height:16.45px;background:#9900ff;"></div>
<div style="left:516.80px;top:147.55px;width:17.30px;height:16.45px;background:#9900ff;"></div>
<div style="left:516.80px;top:163.00px;width:18.10px;height:16.45px;background:#9900ff;"></div>
<div style="left:533.90px;top:163.80px;width:18.00px;height:15.65px;background:#9900ff;"></div>
<div style="left:552.50px;top:180.05px;width:17.30px;height:16.15px;background:#9900ff;"></div>
<div style="left:588.80px;top:212.80px;width:16.60px;height:15.65px;background:#9900ff;"></div>
<div style="left:606.00px;top:229.05px;width:18.40px;height:16.45px;background:#9900ff;"></div>
<div style="left:623.40px;top:229.05px;width:18.00px;height:16.45px;background:#9900ff;"></div>
<div style="left:606.00px;top:244.50px;width:18.40px;height:16.45px;background:#9900ff;"></div>
<div style="left:623.40px;top:244.50px;width:18.00px;height:16.45px;background:#9900ff;"></div>
<div style="left:642.00px;top:278.30px;width:17.00px;height:17.20px;background:#9900ff;"></div>
<div style="left:678.30px;top:278.30px;width:16.50px;height:17.20px;background:#9900ff;"></div>
<div style="left:642.00px;top:294.50px;width:17.00px;height:14.26px;background:#9900ff;"></div>
<div style="left:678.30px;top:294.50px;width:16.50px;height:14.26px;background:#9900ff;"></div>
<div style="left:695.40px;top:309.36px;width:17.30px;height:15.74px;background:#9900ff;"></div>
<div style="left:713.30px;top:341.90px;width:17.40px;height:15.80px;background:#9900ff;"></div>
<div style="left:713.30px;top:356.70px;width:17.40px;height:17.70px;background:#9900ff;"></div>
<div style="left:713.30px;top:373.40px;width:17.40px;height:17.10px;background:#9900ff;"></div>
<div style="left:713.30px;top:389.50px;width:17.40px;height:17.25px;background:#9900ff;"></div>
<div style="left:713.30px;top:405.75px;width:17.40px;height:15.85px;background:#9900ff;"></div>
<div style="left:498.90px;top:97.90px;width:17.30px;height:1.00px;background:rgba(255,255,255,0.28);"></div>
<div style="left:498.90px;top:114.00px;width:17.30px;height:1.00px;background:rgba(255,255,255,0.28);"></div>
<div style="left:498.90px;top:130.50px;width:17.30px;height:1.00px;background:rgba(255,255,255,0.28);"></div>
<div style="left:516.80px;top:163.00px;width:17.30px;height:1.00px;background:rgba(255,255,255,0.28);"></div>
<div style="left:533.90px;top:163.80px;width:1.00px;height:15.65px;background:rgba(255,255,255,0.28);"></div>
<div style="left:606.00px;top:244.50px;width:17.60px;height:1.00px;background:rgba(255,255,255,0.28);"></div>
<div style="left:623.40px;top:229.05px;width:1.00px;height:15.65px;background:rgba(255,255,255,0.28);"></div>
<div style="left:624.20px;top:244.50px;width:17.20px;height:1.00px;background:rgba(255,255,255,0.28);"></div>
<div style="left:623.40px;top:245.30px;width:1.00px;height:15.65px;background:rgba(255,255,255,0.28);"></div>
<div style="left:642.00px;top:294.50px;width:17.00px;height:1.00px;background:rgba(255,255,255,0.28);"></div>
<div style="left:678.30px;top:294.50px;width:16.50px;height:1.00px;background:rgba(255,255,255,0.28);"></div>
<div style="left:713.30px;top:356.70px;width:17.40px;height:1.00px;background:rgba(255,255,255,0.28);"></div>
<div style="left:713.30px;top:373.40px;width:17.40px;height:1.00px;background:rgba(255,255,255,0.28);"></div>
<div style="left:713.30px;top:389.50px;width:17.40px;height:1.00px;background:rgba(255,255,255,0.28);"></div>
<div style="left:713.30px;top:405.75px;width:17.40px;height:1.00px;background:rgba(255,255,255,0.28);"></div>
<div style="left:48.50px;top:454.00px;width:717.80px;height:111.30px;background:#d9d9d9;"></div>
<div style="left:48.00px;top:453.50px;width:718.30px;height:1.00px;background:#989898;"></div>
<div style="left:48.00px;top:564.80px;width:718.30px;height:1.00px;background:#989898;"></div>
<div style="left:48.00px;top:454.00px;width:1.00px;height:111.30px;background:#989898;"></div>
<div style="left:498.10px;top:454.00px;width:1.00px;height:111.30px;background:#989898;"></div>
<div class="t" style="left:52.00px;top:456px;transform:translateY(0.00px) rotate(0.04deg);font-size:8.35px;letter-spacing:0.200px;font-weight:bold;-webkit-text-stroke:0.22px;">KPI</div>
<div style="left:569.25px;top:196.50px;width:1.70px;height:273.95px;background:#9244d2;"></div>
<div style="left:534.40px;top:468.55px;width:36.55px;height:1.90px;background:#9244d2;"></div>
<div class="t" style="left:545.79px;top:455px;transform:translateY(0.60px) rotate(0.04deg);font-size:8.35px;letter-spacing:0.182px;font-weight:bold;-webkit-text-stroke:0.22px;">SOW</div>
<div style="left:640.85px;top:261.25px;width:1.70px;height:224.70px;background:#9244d2;"></div>
<div style="left:570.10px;top:484.05px;width:72.45px;height:1.90px;background:#9244d2;"></div>
<div class="t" style="left:582.35px;top:471px;transform:translateY(0.10px) rotate(0.04deg);font-size:8.35px;letter-spacing:0.309px;font-weight:bold;-webkit-text-stroke:0.22px;">Confirmation</div>
<div style="left:694.25px;top:309.06px;width:1.70px;height:192.39px;background:#9244d2;"></div>
<div style="left:623.90px;top:499.55px;width:72.05px;height:1.90px;background:#9244d2;"></div>
<div class="t" style="left:635.75px;top:486px;transform:translateY(0.60px) rotate(0.04deg);font-size:8.35px;letter-spacing:0.309px;font-weight:bold;-webkit-text-stroke:0.22px;">Confirmation</div>
<div style="left:694.25px;top:309.06px;width:1.70px;height:208.39px;background:#9244d2;"></div>
<div style="left:623.90px;top:515.55px;width:72.05px;height:1.90px;background:#9244d2;"></div>
<div class="t" style="left:635.75px;top:502px;transform:translateY(0.60px) rotate(0.04deg);font-size:8.35px;letter-spacing:0.309px;font-weight:bold;-webkit-text-stroke:0.22px;">Confirmation</div>
<div style="left:712.15px;top:325.40px;width:1.70px;height:208.05px;background:#9244d2;"></div>
<div style="left:623.90px;top:531.55px;width:89.95px;height:1.90px;background:#9244d2;"></div>
<div class="t" style="left:628.87px;top:518px;transform:translateY(0.60px) rotate(0.04deg);font-size:8.35px;letter-spacing:0.338px;font-weight:bold;-webkit-text-stroke:0.22px;">NRA Classification</div>
<div style="left:730.15px;top:421.90px;width:1.70px;height:127.75px;background:#9244d2;"></div>
<div style="left:678.00px;top:547.75px;width:53.85px;height:1.90px;background:#9244d2;"></div>
<div class="t" style="left:686.99px;top:534px;transform:translateY(0.80px) rotate(0.04deg);font-size:8.35px;letter-spacing:0.187px;font-weight:bold;-webkit-text-stroke:0.22px;">Archiving</div>
<div style="left:712.15px;top:421.90px;width:1.70px;height:111.55px;background:#9244d2;"></div>
<div style="left:0.00px;top:2.50px;width:2.40px;height:581.00px;background:#000;"></div>
<div style="left:0.00px;top:2.50px;width:498.60px;height:1.90px;background:#000;"></div>
<div style="left:0.00px;top:581.00px;width:768.00px;height:2.00px;background:#000;"></div>
<div style="left:766.30px;top:19.80px;width:1.70px;height:46.50px;background:#a6a6a6;"></div>
<div style="left:766.30px;top:66.30px;width:1.70px;height:515.00px;background:#5c5c5c;"></div>
</div></body></html>
